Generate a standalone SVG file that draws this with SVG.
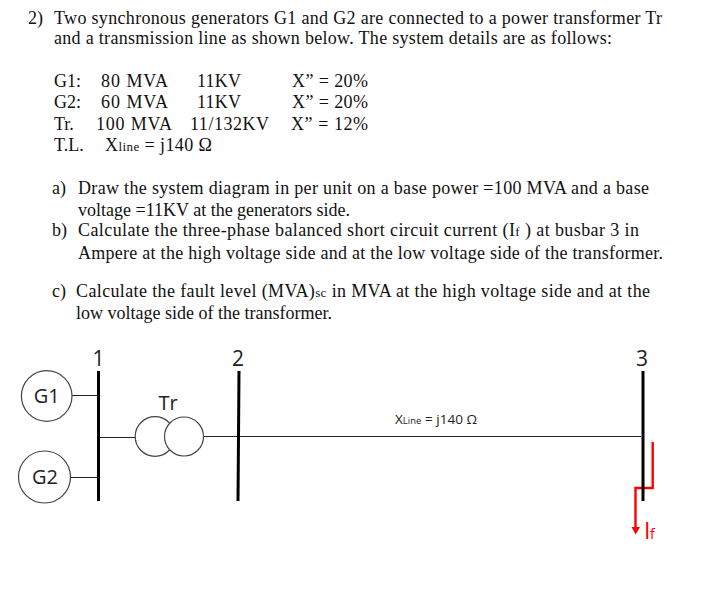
<svg xmlns="http://www.w3.org/2000/svg" width="705" height="592" viewBox="0 0 705 592">
<style>
.t{font-family:"Liberation Serif",serif;font-size:18px;fill:#111}
.s{font-size:13px}
.c{font-family:"Open Sans","Noto Sans",sans-serif;fill:#222}
.n{fill:#fff;stroke:#444;stroke-width:1.2}
.w{stroke:#222;stroke-width:1.2;fill:none}
.b{stroke:#000;stroke-width:3;fill:none}
</style>
<rect width="705" height="592" fill="#fff"/>
<g id="text">
<text class="t" x="28" y="24">2)</text>
<text class="t" x="54" y="24" textLength="608" lengthAdjust="spacing">Two synchronous generators G1 and G2 are connected to a power transformer Tr</text>
<text class="t" x="54" y="44" textLength="558" lengthAdjust="spacing">and a transmission line as shown below. The system details are as follows:</text>
<text class="t" x="54" y="87">G1:</text><text class="t" x="101" y="87" textLength="67">80 MVA</text><text class="t" x="197" y="87" textLength="44">11KV</text><text class="t" x="292" y="87" textLength="76">X” = 20%</text>
<text class="t" x="54" y="108">G2:</text><text class="t" x="101" y="108" textLength="67">60 MVA</text><text class="t" x="197" y="108" textLength="44">11KV</text><text class="t" x="292" y="108" textLength="76">X” = 20%</text>
<text class="t" x="54" y="130">Tr.</text><text class="t" x="96" y="130" textLength="76">100 MVA</text><text class="t" x="190" y="130" textLength="79">11/132KV</text><text class="t" x="291" y="130" textLength="77">X” = 12%</text>
<text class="t" x="54" y="151">T.L.</text><text class="t" x="105" y="151" textLength="107">X<tspan class="s">line</tspan> = j140 Ω</text>
<text class="t" x="52" y="194">a)</text>
<text class="t" x="78" y="194" textLength="571" lengthAdjust="spacing">Draw the system diagram in per unit on a base power =100 MVA and a base</text>
<text class="t" x="78" y="216">voltage =11KV at the generators side.</text>
<text class="t" x="52" y="236">b)</text>
<text class="t" x="78" y="236" textLength="561" lengthAdjust="spacing">Calculate the three-phase balanced short circuit current (I<tspan class="s">f</tspan> ) at busbar 3 in</text>
<text class="t" x="78" y="259" textLength="585" lengthAdjust="spacing">Ampere at the high voltage side and at the low voltage side of the transformer.</text>
<text class="t" x="52" y="297">c)</text>
<text class="t" x="76" y="297" textLength="574" lengthAdjust="spacing">Calculate the fault level (MVA)<tspan class="s">sc</tspan> in MVA at the high voltage side and at the</text>
<text class="t" x="76" y="319">low voltage side of the transformer.</text>
</g>
<g id="connectors">
<path class="w" d="M71 395.500H98M70 477.500H98M99 437.500H136M203 436.500H641"/>
<path d="M652.700 442V488H635.500V530" fill="none" stroke="#f00" stroke-width="2.4"/>
<path d="M631.500 527H640L635.700 534.500Z" fill="#f00"/>
</g>
<g id="bus1"><path class="b" d="M98.500 371V501"/><text class="c" x="98.500" y="366" font-size="21" text-anchor="middle">1</text></g>
<g id="bus2"><path class="b" d="M239 371L238 501"/><text class="c" x="238" y="366" font-size="21" text-anchor="middle">2</text></g>
<g id="bus3"><path class="b" d="M643 371V501"/><text class="c" x="642" y="366" font-size="21" text-anchor="middle">3</text></g>
<g id="G1"><circle class="n" cx="46.700" cy="396" r="25.300"/><text class="c" x="46.700" y="403" font-size="20" text-anchor="middle">G1</text></g>
<g id="G2"><circle class="n" cx="44.500" cy="477" r="26"/><text class="c" x="45" y="484" font-size="20" text-anchor="middle">G2</text></g>
<g id="Tr">
<circle class="n" cx="155" cy="436.500" r="19.800"/>
<circle class="n" cx="184" cy="436.500" r="19.500"/>
<text class="c" x="168" y="410" font-size="20" text-anchor="middle">Tr</text>
</g>
<g id="labels">
<text class="c" x="395" y="424" font-size="13.500" textLength="82">X<tspan font-size="9.500">Line</tspan> = j140 Ω</text>
<text class="c" x="644" y="539" font-size="23" style="fill:#f00">I</text>
<text class="c" x="650" y="539" font-size="14" style="fill:#f00">f</text>
</g>
</svg>
